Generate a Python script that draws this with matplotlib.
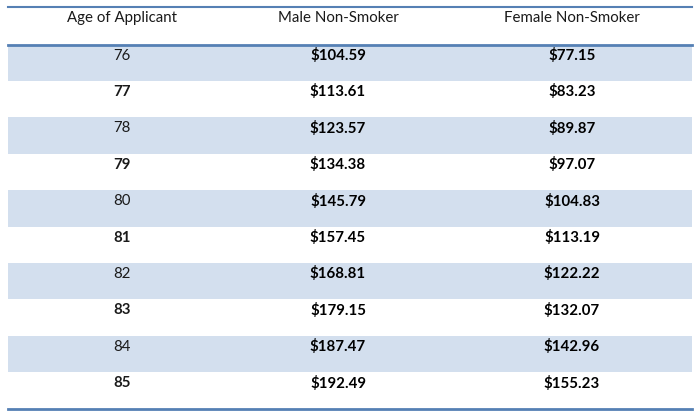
import matplotlib.pyplot as plt
from matplotlib.patches import Rectangle

plt.rcParams['font.family'] = ['Lato', 'DejaVu Sans']

headers = ["Age of Applicant", "Male Non-Smoker", "Female Non-Smoker"]
ages = [76, 77, 78, 79, 80, 81, 82, 83, 84, 85]
male = [104.59, 113.61, 123.57, 134.38, 145.79, 157.45, 168.81, 179.15, 187.47, 192.49]
female = [77.15, 83.23, 89.87, 97.07, 104.83, 113.19, 122.22, 132.07, 142.96, 155.23]

line_col = '#5580b4'
band_col = '#d3dfee'

fig = plt.figure(figsize=(7, 4.18), dpi=100)
ax = fig.add_axes([0, 0, 1, 1])
ax.set_xlim(0, 700)
ax.set_ylim(418, 0)
ax.axis('off')

left, right = 8, 692
col_x = [122, 338, 572]
top = 6.5
header_bottom = 44.5
row_h = 36.4
fs = 10.8

# header
for x, h in zip(col_x, headers):
    ax.text(x, top + 11.5, h, ha='center', va='center', fontsize=fs, color='#1a1a1a')

for i, (a, m, f) in enumerate(zip(ages, male, female)):
    y0 = header_bottom + i * row_h
    if i % 2 == 0:
        ax.add_patch(Rectangle((left, y0), right - left, row_h, facecolor=band_col,
                               edgecolor='none', zorder=0))
    ty = y0 + 11
    ax.text(col_x[0], ty, str(a), ha='center', va='center', fontsize=fs,
            fontweight='normal' if i % 2 == 0 else 'bold', color='#1a1a1a')
    ax.text(col_x[1], ty, f"${m:.2f}", ha='center', va='center', fontsize=fs,
            fontweight='bold', color='#000000')
    ax.text(col_x[2], ty, f"${f:.2f}", ha='center', va='center', fontsize=fs,
            fontweight='bold', color='#000000')

bottom = header_bottom + len(ages) * row_h
ax.plot([left, right], [top, top], color=line_col, lw=1.5)
ax.plot([left, right], [header_bottom, header_bottom], color=line_col, lw=2)
ax.plot([left, right], [bottom, bottom], color=line_col, lw=2)

fig.savefig('out.png', dpi=100)
